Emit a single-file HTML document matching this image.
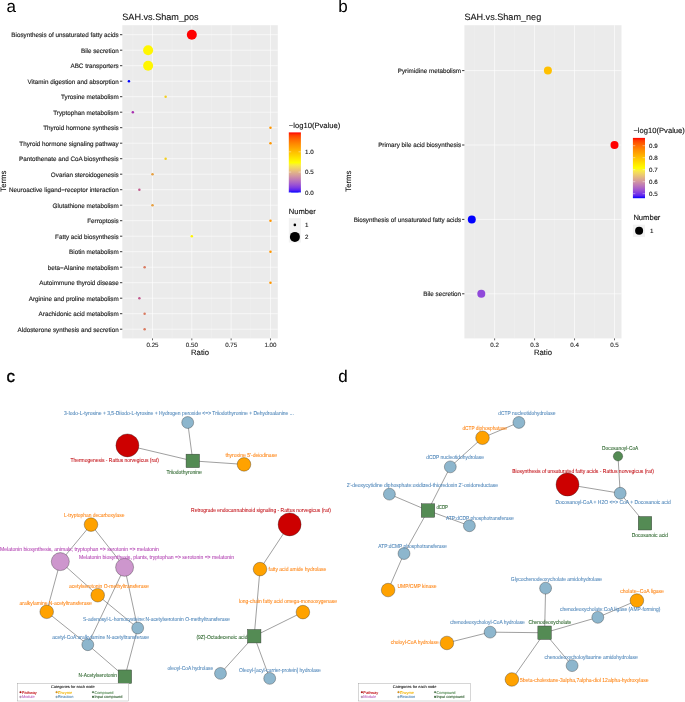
<!DOCTYPE html>
<html><head><meta charset="utf-8"><title>Figure</title>
<style>html,body{margin:0;padding:0;background:#fff}svg{display:block}</style></head>
<body>
<svg width="685" height="702" viewBox="0 0 685 702" text-rendering="geometricPrecision" font-family="Liberation Sans, sans-serif">
<rect width="685" height="702" fill="#fff"/>
<rect x="122.3" y="25.2" width="155.50" height="313.20" fill="#ebebeb"/>
<line x1="132.84" x2="132.84" y1="25.2" y2="338.4" stroke="#fff" stroke-width="0.28" stroke-opacity="0.6"/>
<line x1="172.16" x2="172.16" y1="25.2" y2="338.4" stroke="#fff" stroke-width="0.28" stroke-opacity="0.6"/>
<line x1="211.49" x2="211.49" y1="25.2" y2="338.4" stroke="#fff" stroke-width="0.28" stroke-opacity="0.6"/>
<line x1="250.81" x2="250.81" y1="25.2" y2="338.4" stroke="#fff" stroke-width="0.28" stroke-opacity="0.6"/>
<line x1="152.50" x2="152.50" y1="25.2" y2="338.4" stroke="#fff" stroke-width="0.6"/>
<line x1="191.82" x2="191.82" y1="25.2" y2="338.4" stroke="#fff" stroke-width="0.6"/>
<line x1="231.15" x2="231.15" y1="25.2" y2="338.4" stroke="#fff" stroke-width="0.6"/>
<line x1="270.48" x2="270.48" y1="25.2" y2="338.4" stroke="#fff" stroke-width="0.6"/>
<line x1="122.3" x2="277.8" y1="34.70" y2="34.70" stroke="#fff" stroke-width="0.6"/>
<line x1="120.00" x2="122.3" y1="34.70" y2="34.70" stroke="#222" stroke-width="0.9"/>
<line x1="122.3" x2="277.8" y1="50.20" y2="50.20" stroke="#fff" stroke-width="0.6"/>
<line x1="120.00" x2="122.3" y1="50.20" y2="50.20" stroke="#222" stroke-width="0.9"/>
<line x1="122.3" x2="277.8" y1="65.70" y2="65.70" stroke="#fff" stroke-width="0.6"/>
<line x1="120.00" x2="122.3" y1="65.70" y2="65.70" stroke="#222" stroke-width="0.9"/>
<line x1="122.3" x2="277.8" y1="81.20" y2="81.20" stroke="#fff" stroke-width="0.6"/>
<line x1="120.00" x2="122.3" y1="81.20" y2="81.20" stroke="#222" stroke-width="0.9"/>
<line x1="122.3" x2="277.8" y1="96.70" y2="96.70" stroke="#fff" stroke-width="0.6"/>
<line x1="120.00" x2="122.3" y1="96.70" y2="96.70" stroke="#222" stroke-width="0.9"/>
<line x1="122.3" x2="277.8" y1="112.20" y2="112.20" stroke="#fff" stroke-width="0.6"/>
<line x1="120.00" x2="122.3" y1="112.20" y2="112.20" stroke="#222" stroke-width="0.9"/>
<line x1="122.3" x2="277.8" y1="127.70" y2="127.70" stroke="#fff" stroke-width="0.6"/>
<line x1="120.00" x2="122.3" y1="127.70" y2="127.70" stroke="#222" stroke-width="0.9"/>
<line x1="122.3" x2="277.8" y1="143.20" y2="143.20" stroke="#fff" stroke-width="0.6"/>
<line x1="120.00" x2="122.3" y1="143.20" y2="143.20" stroke="#222" stroke-width="0.9"/>
<line x1="122.3" x2="277.8" y1="158.70" y2="158.70" stroke="#fff" stroke-width="0.6"/>
<line x1="120.00" x2="122.3" y1="158.70" y2="158.70" stroke="#222" stroke-width="0.9"/>
<line x1="122.3" x2="277.8" y1="174.20" y2="174.20" stroke="#fff" stroke-width="0.6"/>
<line x1="120.00" x2="122.3" y1="174.20" y2="174.20" stroke="#222" stroke-width="0.9"/>
<line x1="122.3" x2="277.8" y1="189.70" y2="189.70" stroke="#fff" stroke-width="0.6"/>
<line x1="120.00" x2="122.3" y1="189.70" y2="189.70" stroke="#222" stroke-width="0.9"/>
<line x1="122.3" x2="277.8" y1="205.20" y2="205.20" stroke="#fff" stroke-width="0.6"/>
<line x1="120.00" x2="122.3" y1="205.20" y2="205.20" stroke="#222" stroke-width="0.9"/>
<line x1="122.3" x2="277.8" y1="220.70" y2="220.70" stroke="#fff" stroke-width="0.6"/>
<line x1="120.00" x2="122.3" y1="220.70" y2="220.70" stroke="#222" stroke-width="0.9"/>
<line x1="122.3" x2="277.8" y1="236.20" y2="236.20" stroke="#fff" stroke-width="0.6"/>
<line x1="120.00" x2="122.3" y1="236.20" y2="236.20" stroke="#222" stroke-width="0.9"/>
<line x1="122.3" x2="277.8" y1="251.70" y2="251.70" stroke="#fff" stroke-width="0.6"/>
<line x1="120.00" x2="122.3" y1="251.70" y2="251.70" stroke="#222" stroke-width="0.9"/>
<line x1="122.3" x2="277.8" y1="267.20" y2="267.20" stroke="#fff" stroke-width="0.6"/>
<line x1="120.00" x2="122.3" y1="267.20" y2="267.20" stroke="#222" stroke-width="0.9"/>
<line x1="122.3" x2="277.8" y1="282.70" y2="282.70" stroke="#fff" stroke-width="0.6"/>
<line x1="120.00" x2="122.3" y1="282.70" y2="282.70" stroke="#222" stroke-width="0.9"/>
<line x1="122.3" x2="277.8" y1="298.20" y2="298.20" stroke="#fff" stroke-width="0.6"/>
<line x1="120.00" x2="122.3" y1="298.20" y2="298.20" stroke="#222" stroke-width="0.9"/>
<line x1="122.3" x2="277.8" y1="313.70" y2="313.70" stroke="#fff" stroke-width="0.6"/>
<line x1="120.00" x2="122.3" y1="313.70" y2="313.70" stroke="#222" stroke-width="0.9"/>
<line x1="122.3" x2="277.8" y1="329.20" y2="329.20" stroke="#fff" stroke-width="0.6"/>
<line x1="120.00" x2="122.3" y1="329.20" y2="329.20" stroke="#222" stroke-width="0.9"/>
<line x1="152.50" x2="152.50" y1="338.4" y2="340.30" stroke="#222" stroke-width="0.7"/>
<text x="152.50" y="346.70" font-size="6.2" fill="#2a2a2a" text-anchor="middle" stroke="#2a2a2a" stroke-width="0.12">0.25</text>
<line x1="191.82" x2="191.82" y1="338.4" y2="340.30" stroke="#222" stroke-width="0.7"/>
<text x="191.82" y="346.70" font-size="6.2" fill="#2a2a2a" text-anchor="middle" stroke="#2a2a2a" stroke-width="0.12">0.50</text>
<line x1="231.15" x2="231.15" y1="338.4" y2="340.30" stroke="#222" stroke-width="0.7"/>
<text x="231.15" y="346.70" font-size="6.2" fill="#2a2a2a" text-anchor="middle" stroke="#2a2a2a" stroke-width="0.12">0.75</text>
<line x1="270.48" x2="270.48" y1="338.4" y2="340.30" stroke="#222" stroke-width="0.7"/>
<text x="270.48" y="346.70" font-size="6.2" fill="#2a2a2a" text-anchor="middle" stroke="#2a2a2a" stroke-width="0.12">1.00</text>
<text x="122.30" y="19.60" font-size="9.1" fill="#111" text-anchor="start" stroke="#111" stroke-width="0.1">SAH.vs.Sham_pos</text>
<text x="200.05" y="355.20" font-size="7.7" fill="#111" text-anchor="middle" stroke="#111" stroke-width="0.12">Ratio</text>
<text transform="translate(6.25,181.1) rotate(-90)" font-size="7.8" fill="#111" text-anchor="middle" stroke="#111" stroke-width="0.1">Terms</text>
<text x="118.75" y="37.40" font-size="6.3" fill="#1a1a1a" text-anchor="end" stroke="#1a1a1a" stroke-width="0.14">Biosynthesis of unsaturated fatty acids</text>
<text x="118.75" y="52.90" font-size="6.3" fill="#1a1a1a" text-anchor="end" stroke="#1a1a1a" stroke-width="0.14">Bile secretion</text>
<text x="118.75" y="68.40" font-size="6.3" fill="#1a1a1a" text-anchor="end" stroke="#1a1a1a" stroke-width="0.14">ABC transporters</text>
<text x="118.75" y="83.90" font-size="6.3" fill="#1a1a1a" text-anchor="end" stroke="#1a1a1a" stroke-width="0.14">Vitamin digestion and absorption</text>
<text x="118.75" y="99.40" font-size="6.3" fill="#1a1a1a" text-anchor="end" stroke="#1a1a1a" stroke-width="0.14">Tyrosine metabolism</text>
<text x="118.75" y="114.90" font-size="6.3" fill="#1a1a1a" text-anchor="end" stroke="#1a1a1a" stroke-width="0.14">Tryptophan metabolism</text>
<text x="118.75" y="130.40" font-size="6.3" fill="#1a1a1a" text-anchor="end" stroke="#1a1a1a" stroke-width="0.14">Thyroid hormone synthesis</text>
<text x="118.75" y="145.90" font-size="6.3" fill="#1a1a1a" text-anchor="end" stroke="#1a1a1a" stroke-width="0.14">Thyroid hormone signaling pathway</text>
<text x="118.75" y="161.40" font-size="6.3" fill="#1a1a1a" text-anchor="end" stroke="#1a1a1a" stroke-width="0.14">Pantothenate and CoA biosynthesis</text>
<text x="118.75" y="176.90" font-size="6.3" fill="#1a1a1a" text-anchor="end" stroke="#1a1a1a" stroke-width="0.14">Ovarian steroidogenesis</text>
<text x="118.75" y="192.40" font-size="6.3" fill="#1a1a1a" text-anchor="end" stroke="#1a1a1a" stroke-width="0.14">Neuroactive ligand−receptor interaction</text>
<text x="118.75" y="207.90" font-size="6.3" fill="#1a1a1a" text-anchor="end" stroke="#1a1a1a" stroke-width="0.14">Glutathione metabolism</text>
<text x="118.75" y="223.40" font-size="6.3" fill="#1a1a1a" text-anchor="end" stroke="#1a1a1a" stroke-width="0.14">Ferroptosis</text>
<text x="118.75" y="238.90" font-size="6.3" fill="#1a1a1a" text-anchor="end" stroke="#1a1a1a" stroke-width="0.14">Fatty acid biosynthesis</text>
<text x="118.75" y="254.40" font-size="6.3" fill="#1a1a1a" text-anchor="end" stroke="#1a1a1a" stroke-width="0.14">Biotin metabolism</text>
<text x="118.75" y="269.90" font-size="6.3" fill="#1a1a1a" text-anchor="end" stroke="#1a1a1a" stroke-width="0.14">beta−Alanine metabolism</text>
<text x="118.75" y="285.40" font-size="6.3" fill="#1a1a1a" text-anchor="end" stroke="#1a1a1a" stroke-width="0.14">Autoimmune thyroid disease</text>
<text x="118.75" y="300.90" font-size="6.3" fill="#1a1a1a" text-anchor="end" stroke="#1a1a1a" stroke-width="0.14">Arginine and proline metabolism</text>
<text x="118.75" y="316.40" font-size="6.3" fill="#1a1a1a" text-anchor="end" stroke="#1a1a1a" stroke-width="0.14">Arachidonic acid metabolism</text>
<text x="118.75" y="331.90" font-size="6.3" fill="#1a1a1a" text-anchor="end" stroke="#1a1a1a" stroke-width="0.14">Aldosterone synthesis and secretion</text>
<circle cx="191.82" cy="34.70" r="5" fill="#ff0000"/>
<circle cx="148.13" cy="50.20" r="5" fill="#fff600"/>
<circle cx="148.13" cy="65.70" r="5" fill="#fff600"/>
<circle cx="128.91" cy="81.20" r="1.25" fill="#0000ff"/>
<circle cx="165.61" cy="96.70" r="1.25" fill="#f3cf22"/>
<circle cx="132.84" cy="112.20" r="1.25" fill="#a830b0"/>
<circle cx="270.48" cy="127.70" r="1.25" fill="#ff9600"/>
<circle cx="270.48" cy="143.20" r="1.25" fill="#ff9600"/>
<circle cx="165.61" cy="158.70" r="1.25" fill="#f3cf22"/>
<circle cx="152.50" cy="174.20" r="1.25" fill="#e8a040"/>
<circle cx="139.39" cy="189.70" r="1.25" fill="#c25a8e"/>
<circle cx="152.50" cy="205.20" r="1.25" fill="#e8a040"/>
<circle cx="270.48" cy="220.70" r="1.25" fill="#ff9600"/>
<circle cx="191.82" cy="236.20" r="1.25" fill="#fff500"/>
<circle cx="270.48" cy="251.70" r="1.25" fill="#ff9600"/>
<circle cx="144.63" cy="267.20" r="1.25" fill="#d97a60"/>
<circle cx="270.48" cy="282.70" r="1.25" fill="#ff9600"/>
<circle cx="139.39" cy="298.20" r="1.25" fill="#c25a8e"/>
<circle cx="144.63" cy="313.70" r="1.25" fill="#d97a60"/>
<circle cx="144.63" cy="329.20" r="1.25" fill="#d97a60"/>
<defs><linearGradient id="ga" x1="0" y1="0" x2="0" y2="1"><stop offset="0.0000" stop-color="#ff0000"/><stop offset="0.0417" stop-color="#ff3b00"/><stop offset="0.0833" stop-color="#ff5600"/><stop offset="0.1250" stop-color="#ff6c00"/><stop offset="0.1667" stop-color="#ff7f00"/><stop offset="0.2083" stop-color="#ff9100"/><stop offset="0.2500" stop-color="#ffa100"/><stop offset="0.2917" stop-color="#ffb200"/><stop offset="0.3333" stop-color="#ffc200"/><stop offset="0.3750" stop-color="#ffd100"/><stop offset="0.4167" stop-color="#ffe100"/><stop offset="0.4583" stop-color="#fff000"/><stop offset="0.5000" stop-color="#ffff00"/><stop offset="0.5417" stop-color="#f9eb44"/><stop offset="0.5833" stop-color="#f2d860"/><stop offset="0.6250" stop-color="#eac476"/><stop offset="0.6667" stop-color="#e0b189"/><stop offset="0.7083" stop-color="#d69e9a"/><stop offset="0.7500" stop-color="#ca8aaa"/><stop offset="0.7917" stop-color="#bc77b9"/><stop offset="0.8333" stop-color="#ab64c7"/><stop offset="0.8750" stop-color="#9850d5"/><stop offset="0.9167" stop-color="#7f3be3"/><stop offset="0.9583" stop-color="#5c24f1"/><stop offset="1.0000" stop-color="#0000ff"/></linearGradient></defs>
<rect x="288.8" y="132.4" width="12.1" height="60.20" fill="url(#ga)"/>
<line x1="288.8" x2="291.2" y1="192.40" y2="192.40" stroke="#fff" stroke-width="0.4"/>
<line x1="298.5" x2="300.90000000000003" y1="192.40" y2="192.40" stroke="#fff" stroke-width="0.4"/>
<text x="305.00" y="194.60" font-size="6.2" fill="#111" text-anchor="start" stroke="#111" stroke-width="0.12">0.0</text>
<line x1="288.8" x2="291.2" y1="172.10" y2="172.10" stroke="#fff" stroke-width="0.4"/>
<line x1="298.5" x2="300.90000000000003" y1="172.10" y2="172.10" stroke="#fff" stroke-width="0.4"/>
<text x="305.00" y="174.30" font-size="6.2" fill="#111" text-anchor="start" stroke="#111" stroke-width="0.12">0.5</text>
<line x1="288.8" x2="291.2" y1="151.80" y2="151.80" stroke="#fff" stroke-width="0.4"/>
<line x1="298.5" x2="300.90000000000003" y1="151.80" y2="151.80" stroke="#fff" stroke-width="0.4"/>
<text x="305.00" y="154.00" font-size="6.2" fill="#111" text-anchor="start" stroke="#111" stroke-width="0.12">1.0</text>
<text x="288.80" y="127.60" font-size="7.6" fill="#111" text-anchor="start" textLength="51.50" lengthAdjust="spacingAndGlyphs" stroke="#111" stroke-width="0.12">−log10(Pvalue)</text>
<text x="288.80" y="214.20" font-size="7.6" fill="#111" text-anchor="start" stroke="#111" stroke-width="0.12">Number</text>
<rect x="288.8" y="218.2" width="12.1" height="24.3" fill="#f2f2f2"/>
<circle cx="294.85" cy="224.9" r="1.3" fill="#000"/><circle cx="294.9" cy="236.9" r="5" fill="#000"/>
<text x="305.00" y="227.10" font-size="6.2" fill="#111" text-anchor="start" stroke="#111" stroke-width="0.12">1</text>
<text x="305.00" y="238.90" font-size="6.2" fill="#111" text-anchor="start" stroke="#111" stroke-width="0.12">2</text>
<text x="6.40" y="11.90" font-size="17" fill="#000" text-anchor="start" >a</text>
<rect x="464.4" y="25.2" width="157.10" height="313.20" fill="#ebebeb"/>
<line x1="474.64" x2="474.64" y1="25.2" y2="338.4" stroke="#fff" stroke-width="0.28" stroke-opacity="0.6"/>
<line x1="514.60" x2="514.60" y1="25.2" y2="338.4" stroke="#fff" stroke-width="0.28" stroke-opacity="0.6"/>
<line x1="554.56" x2="554.56" y1="25.2" y2="338.4" stroke="#fff" stroke-width="0.28" stroke-opacity="0.6"/>
<line x1="594.52" x2="594.52" y1="25.2" y2="338.4" stroke="#fff" stroke-width="0.28" stroke-opacity="0.6"/>
<line x1="494.62" x2="494.62" y1="25.2" y2="338.4" stroke="#fff" stroke-width="0.6"/>
<line x1="534.58" x2="534.58" y1="25.2" y2="338.4" stroke="#fff" stroke-width="0.6"/>
<line x1="574.54" x2="574.54" y1="25.2" y2="338.4" stroke="#fff" stroke-width="0.6"/>
<line x1="614.50" x2="614.50" y1="25.2" y2="338.4" stroke="#fff" stroke-width="0.6"/>
<line x1="464.4" x2="621.5" y1="70.60" y2="70.60" stroke="#fff" stroke-width="0.6"/>
<line x1="462.10" x2="464.4" y1="70.60" y2="70.60" stroke="#222" stroke-width="0.9"/>
<line x1="464.4" x2="621.5" y1="145.00" y2="145.00" stroke="#fff" stroke-width="0.6"/>
<line x1="462.10" x2="464.4" y1="145.00" y2="145.00" stroke="#222" stroke-width="0.9"/>
<line x1="464.4" x2="621.5" y1="219.40" y2="219.40" stroke="#fff" stroke-width="0.6"/>
<line x1="462.10" x2="464.4" y1="219.40" y2="219.40" stroke="#222" stroke-width="0.9"/>
<line x1="464.4" x2="621.5" y1="293.80" y2="293.80" stroke="#fff" stroke-width="0.6"/>
<line x1="462.10" x2="464.4" y1="293.80" y2="293.80" stroke="#222" stroke-width="0.9"/>
<line x1="494.62" x2="494.62" y1="338.4" y2="340.30" stroke="#222" stroke-width="0.7"/>
<text x="494.62" y="346.70" font-size="6.2" fill="#2a2a2a" text-anchor="middle" stroke="#2a2a2a" stroke-width="0.12">0.2</text>
<line x1="534.58" x2="534.58" y1="338.4" y2="340.30" stroke="#222" stroke-width="0.7"/>
<text x="534.58" y="346.70" font-size="6.2" fill="#2a2a2a" text-anchor="middle" stroke="#2a2a2a" stroke-width="0.12">0.3</text>
<line x1="574.54" x2="574.54" y1="338.4" y2="340.30" stroke="#222" stroke-width="0.7"/>
<text x="574.54" y="346.70" font-size="6.2" fill="#2a2a2a" text-anchor="middle" stroke="#2a2a2a" stroke-width="0.12">0.4</text>
<line x1="614.50" x2="614.50" y1="338.4" y2="340.30" stroke="#222" stroke-width="0.7"/>
<text x="614.50" y="346.70" font-size="6.2" fill="#2a2a2a" text-anchor="middle" stroke="#2a2a2a" stroke-width="0.12">0.5</text>
<text x="464.40" y="19.60" font-size="9.1" fill="#111" text-anchor="start" stroke="#111" stroke-width="0.1">SAH.vs.Sham_neg</text>
<text x="542.95" y="355.20" font-size="7.7" fill="#111" text-anchor="middle" stroke="#111" stroke-width="0.12">Ratio</text>
<text transform="translate(350.9,181.1) rotate(-90)" font-size="7.8" fill="#111" text-anchor="middle" stroke="#111" stroke-width="0.1">Terms</text>
<text x="461.10" y="72.75" font-size="6.3" fill="#1a1a1a" text-anchor="end" stroke="#1a1a1a" stroke-width="0.14">Pyrimidine metabolism</text>
<text x="461.10" y="147.15" font-size="6.3" fill="#1a1a1a" text-anchor="end" stroke="#1a1a1a" stroke-width="0.14">Primary bile acid biosynthesis</text>
<text x="461.10" y="221.55" font-size="6.3" fill="#1a1a1a" text-anchor="end" stroke="#1a1a1a" stroke-width="0.14">Biosynthesis of unsaturated fatty acids</text>
<text x="461.10" y="295.95" font-size="6.3" fill="#1a1a1a" text-anchor="end" stroke="#1a1a1a" stroke-width="0.14">Bile secretion</text>
<circle cx="547.90" cy="70.60" r="4" fill="#ffc000"/>
<circle cx="614.50" cy="145.00" r="4" fill="#ff0000"/>
<circle cx="471.79" cy="219.40" r="4" fill="#0000ff"/>
<circle cx="481.30" cy="293.80" r="4" fill="#9049da"/>
<defs><linearGradient id="gb" x1="0" y1="0" x2="0" y2="1"><stop offset="0.0000" stop-color="#ff0000"/><stop offset="0.0417" stop-color="#ff3b00"/><stop offset="0.0833" stop-color="#ff5600"/><stop offset="0.1250" stop-color="#ff6c00"/><stop offset="0.1667" stop-color="#ff7f00"/><stop offset="0.2083" stop-color="#ff9100"/><stop offset="0.2500" stop-color="#ffa100"/><stop offset="0.2917" stop-color="#ffb200"/><stop offset="0.3333" stop-color="#ffc200"/><stop offset="0.3750" stop-color="#ffd100"/><stop offset="0.4167" stop-color="#ffe100"/><stop offset="0.4583" stop-color="#fff000"/><stop offset="0.5000" stop-color="#ffff00"/><stop offset="0.5417" stop-color="#f9eb44"/><stop offset="0.5833" stop-color="#f2d860"/><stop offset="0.6250" stop-color="#eac476"/><stop offset="0.6667" stop-color="#e0b189"/><stop offset="0.7083" stop-color="#d69e9a"/><stop offset="0.7500" stop-color="#ca8aaa"/><stop offset="0.7917" stop-color="#bc77b9"/><stop offset="0.8333" stop-color="#ab64c7"/><stop offset="0.8750" stop-color="#9850d5"/><stop offset="0.9167" stop-color="#7f3be3"/><stop offset="0.9583" stop-color="#5c24f1"/><stop offset="1.0000" stop-color="#0000ff"/></linearGradient></defs>
<rect x="632.9" y="137.9" width="12.1" height="60.30" fill="url(#gb)"/>
<line x1="632.9" x2="635.3" y1="193.70" y2="193.70" stroke="#fff" stroke-width="0.4"/>
<line x1="642.6" x2="645.0" y1="193.70" y2="193.70" stroke="#fff" stroke-width="0.4"/>
<text x="649.10" y="195.90" font-size="6.2" fill="#111" text-anchor="start" stroke="#111" stroke-width="0.12">0.5</text>
<line x1="632.9" x2="635.3" y1="181.70" y2="181.70" stroke="#fff" stroke-width="0.4"/>
<line x1="642.6" x2="645.0" y1="181.70" y2="181.70" stroke="#fff" stroke-width="0.4"/>
<text x="649.10" y="183.90" font-size="6.2" fill="#111" text-anchor="start" stroke="#111" stroke-width="0.12">0.6</text>
<line x1="632.9" x2="635.3" y1="169.70" y2="169.70" stroke="#fff" stroke-width="0.4"/>
<line x1="642.6" x2="645.0" y1="169.70" y2="169.70" stroke="#fff" stroke-width="0.4"/>
<text x="649.10" y="171.90" font-size="6.2" fill="#111" text-anchor="start" stroke="#111" stroke-width="0.12">0.7</text>
<line x1="632.9" x2="635.3" y1="157.70" y2="157.70" stroke="#fff" stroke-width="0.4"/>
<line x1="642.6" x2="645.0" y1="157.70" y2="157.70" stroke="#fff" stroke-width="0.4"/>
<text x="649.10" y="159.90" font-size="6.2" fill="#111" text-anchor="start" stroke="#111" stroke-width="0.12">0.8</text>
<line x1="632.9" x2="635.3" y1="145.70" y2="145.70" stroke="#fff" stroke-width="0.4"/>
<line x1="642.6" x2="645.0" y1="145.70" y2="145.70" stroke="#fff" stroke-width="0.4"/>
<text x="649.10" y="147.90" font-size="6.2" fill="#111" text-anchor="start" stroke="#111" stroke-width="0.12">0.9</text>
<text x="633.40" y="133.10" font-size="7.6" fill="#111" text-anchor="start" textLength="51.50" lengthAdjust="spacingAndGlyphs" stroke="#111" stroke-width="0.12">−log10(Pvalue)</text>
<text x="633.40" y="220.00" font-size="7.6" fill="#111" text-anchor="start" stroke="#111" stroke-width="0.12">Number</text>
<rect x="632.9" y="224.7" width="12.1" height="12.2" fill="#f2f2f2"/>
<circle cx="639.1" cy="230.8" r="4" fill="#000"/>
<text x="649.90" y="233.00" font-size="6.2" fill="#111" text-anchor="start" stroke="#111" stroke-width="0.12">1</text>
<text x="338.30" y="11.90" font-size="17" fill="#000" text-anchor="start" >b</text>
<line x1="127.4" y1="445.4" x2="192.8" y2="460.9" stroke="#404040" stroke-width="0.5"/>
<line x1="187.7" y1="422.5" x2="192.8" y2="460.9" stroke="#404040" stroke-width="0.5"/>
<line x1="192.8" y1="460.9" x2="244" y2="464.4" stroke="#404040" stroke-width="0.5"/>
<line x1="91" y1="524.6" x2="60.3" y2="561.6" stroke="#404040" stroke-width="0.5"/>
<line x1="91" y1="524.6" x2="124.6" y2="567.3" stroke="#404040" stroke-width="0.5"/>
<line x1="60.3" y1="561.6" x2="46.7" y2="611.8" stroke="#404040" stroke-width="0.5"/>
<line x1="60.3" y1="561.6" x2="97.7" y2="595.2" stroke="#404040" stroke-width="0.5"/>
<line x1="124.6" y1="567.3" x2="137.7" y2="628" stroke="#404040" stroke-width="0.5"/>
<line x1="124.6" y1="567.3" x2="87.8" y2="644.7" stroke="#404040" stroke-width="0.5"/>
<line x1="46.7" y1="611.8" x2="87.8" y2="644.7" stroke="#404040" stroke-width="0.5"/>
<line x1="97.7" y1="595.2" x2="137.7" y2="628" stroke="#404040" stroke-width="0.5"/>
<line x1="87.8" y1="644.7" x2="124.9" y2="676.7" stroke="#404040" stroke-width="0.5"/>
<line x1="137.7" y1="628" x2="124.9" y2="676.7" stroke="#404040" stroke-width="0.5"/>
<line x1="289.6" y1="524.4" x2="260" y2="569.1" stroke="#404040" stroke-width="0.5"/>
<line x1="260" y1="569.1" x2="254.2" y2="636.2" stroke="#404040" stroke-width="0.5"/>
<line x1="302.9" y1="612.1" x2="254.2" y2="636.2" stroke="#404040" stroke-width="0.5"/>
<line x1="254.2" y1="636.2" x2="220.5" y2="673.4" stroke="#404040" stroke-width="0.5"/>
<line x1="254.2" y1="636.2" x2="269.7" y2="678.4" stroke="#404040" stroke-width="0.5"/>
<circle cx="127.4" cy="445.4" r="11.5" fill="#CD0000" stroke="#2a2a2a" stroke-width="0.35"/>
<circle cx="187.7" cy="422.5" r="5.95" fill="#8DB6CD" stroke="#2a2a2a" stroke-width="0.35"/>
<rect x="186.05" y="454.15" width="13.5" height="13.5" fill="#548B54" stroke="#333" stroke-width="0.4"/>
<circle cx="244" cy="464.4" r="6.8" fill="#FFA200" stroke="#2a2a2a" stroke-width="0.35"/>
<circle cx="91" cy="524.6" r="6.8" fill="#FFA200" stroke="#2a2a2a" stroke-width="0.35"/>
<circle cx="60.3" cy="561.6" r="9" fill="#CD96CD" stroke="#2a2a2a" stroke-width="0.35"/>
<circle cx="124.6" cy="567.3" r="9" fill="#CD96CD" stroke="#2a2a2a" stroke-width="0.35"/>
<circle cx="97.7" cy="595.2" r="6.8" fill="#FFA200" stroke="#2a2a2a" stroke-width="0.35"/>
<circle cx="46.7" cy="611.8" r="6.8" fill="#FFA200" stroke="#2a2a2a" stroke-width="0.35"/>
<circle cx="137.7" cy="628" r="5.95" fill="#8DB6CD" stroke="#2a2a2a" stroke-width="0.35"/>
<circle cx="87.8" cy="644.7" r="5.95" fill="#8DB6CD" stroke="#2a2a2a" stroke-width="0.35"/>
<rect x="118.15" y="669.95" width="13.5" height="13.5" fill="#548B54" stroke="#333" stroke-width="0.4"/>
<circle cx="289.6" cy="524.4" r="11.5" fill="#CD0000" stroke="#2a2a2a" stroke-width="0.35"/>
<circle cx="260" cy="569.1" r="6.8" fill="#FFA200" stroke="#2a2a2a" stroke-width="0.35"/>
<circle cx="302.9" cy="612.1" r="6.8" fill="#FFA200" stroke="#2a2a2a" stroke-width="0.35"/>
<rect x="247.45" y="629.45" width="13.5" height="13.5" fill="#548B54" stroke="#333" stroke-width="0.4"/>
<circle cx="220.5" cy="673.4" r="5.95" fill="#8DB6CD" stroke="#2a2a2a" stroke-width="0.35"/>
<circle cx="269.7" cy="678.4" r="5.95" fill="#8DB6CD" stroke="#2a2a2a" stroke-width="0.35"/>
<text x="64.00" y="415.10" font-size="5.7" fill="#5389BB" text-anchor="start" textLength="229.80" lengthAdjust="spacingAndGlyphs" stroke="#5389BB" stroke-width="0.09">3-Iodo-L-tyrosine + 3,5-Diiodo-L-tyrosine + Hydrogen peroxide &lt;=&gt; Triiodothyronine + Dehydroalanine ...</text>
<text x="70.40" y="462.30" font-size="5.7" fill="#C4161C" text-anchor="start" textLength="88.40" lengthAdjust="spacingAndGlyphs" stroke="#C4161C" stroke-width="0.09">Thermogenesis - Rattus norvegicus (rat)</text>
<text x="166.40" y="473.80" font-size="5.7" fill="#2d662d" text-anchor="start" textLength="35.40" lengthAdjust="spacingAndGlyphs" stroke="#2d662d" stroke-width="0.09">Triiodothyronine</text>
<text x="225.40" y="456.90" font-size="5.7" fill="#FF8616" text-anchor="start" textLength="51.60" lengthAdjust="spacingAndGlyphs" stroke="#FF8616" stroke-width="0.09">thyroxine 5'-deiodinase</text>
<text x="64.00" y="516.80" font-size="5.7" fill="#FF8616" text-anchor="start" textLength="60.40" lengthAdjust="spacingAndGlyphs" stroke="#FF8616" stroke-width="0.09">L-tryptophan decarboxylase</text>
<text x="0.00" y="550.50" font-size="5.7" fill="#B549B5" text-anchor="start" textLength="158.80" lengthAdjust="spacingAndGlyphs" stroke="#B549B5" stroke-width="0.09">Melatonin biosynthesis, animals; tryptophan =&gt; serotonin =&gt; melatonin</text>
<text x="79.00" y="559.10" font-size="5.7" fill="#B549B5" text-anchor="start" textLength="155.00" lengthAdjust="spacingAndGlyphs" stroke="#B549B5" stroke-width="0.09">Melatonin biosynthesis, plants, tryptophan =&gt; serotonin =&gt; melatonin</text>
<text x="69.00" y="588.00" font-size="5.7" fill="#FF8616" text-anchor="start" textLength="79.70" lengthAdjust="spacingAndGlyphs" stroke="#FF8616" stroke-width="0.09">acetylserotonin O-methyltransferase</text>
<text x="19.60" y="604.80" font-size="5.7" fill="#FF8616" text-anchor="start" textLength="72.10" lengthAdjust="spacingAndGlyphs" stroke="#FF8616" stroke-width="0.09">aralkylamine N-acetyltransferase</text>
<text x="83.00" y="621.40" font-size="5.7" fill="#5389BB" text-anchor="start" textLength="146.80" lengthAdjust="spacingAndGlyphs" stroke="#5389BB" stroke-width="0.09">S-adenosyl-L-homocysteine:N-acetylserotonin O-methyltransferase</text>
<text x="52.30" y="638.50" font-size="5.7" fill="#5389BB" text-anchor="start" textLength="96.70" lengthAdjust="spacingAndGlyphs" stroke="#5389BB" stroke-width="0.09">acetyl-CoA:aralkylamine N-acetyltransferase</text>
<text x="78.60" y="676.80" font-size="5.7" fill="#2d662d" text-anchor="start" textLength="38.40" lengthAdjust="spacingAndGlyphs" stroke="#2d662d" stroke-width="0.09">N-Acetylserotonin</text>
<text x="191.10" y="511.90" font-size="5.7" fill="#C4161C" text-anchor="start" textLength="139.70" lengthAdjust="spacingAndGlyphs" stroke="#C4161C" stroke-width="0.09">Retrograde endocannabinoid signaling - Rattus norvegicus (rat)</text>
<text x="268.50" y="570.90" font-size="5.7" fill="#FF8616" text-anchor="start" textLength="57.80" lengthAdjust="spacingAndGlyphs" stroke="#FF8616" stroke-width="0.09">fatty acid amide hydrolase</text>
<text x="239.00" y="603.10" font-size="5.7" fill="#FF8616" text-anchor="start" textLength="98.00" lengthAdjust="spacingAndGlyphs" stroke="#FF8616" stroke-width="0.09">long-chain fatty acid omega-monooxygenase</text>
<text x="196.40" y="638.80" font-size="5.7" fill="#2d662d" text-anchor="start" textLength="51.00" lengthAdjust="spacingAndGlyphs" stroke="#2d662d" stroke-width="0.09">(9Z)-Octadecenoic acid</text>
<text x="167.50" y="670.20" font-size="5.7" fill="#5389BB" text-anchor="start" textLength="45.70" lengthAdjust="spacingAndGlyphs" stroke="#5389BB" stroke-width="0.09">oleoyl-CoA hydrolase</text>
<text x="239.10" y="672.20" font-size="5.7" fill="#5389BB" text-anchor="start" textLength="81.70" lengthAdjust="spacingAndGlyphs" stroke="#5389BB" stroke-width="0.09">Oleoyl-[acyl-carrier-protein] hydrolase</text>
<text x="6.5" y="382.2" font-size="17" fill="#000" stroke="#000" stroke-width="0.4">c</text>
<line x1="518.9" y1="422.45" x2="482.5" y2="437.75" stroke="#404040" stroke-width="0.5"/>
<line x1="482.5" y1="437.75" x2="450.3" y2="466.85" stroke="#404040" stroke-width="0.5"/>
<line x1="450.3" y1="466.85" x2="428" y2="510.55" stroke="#404040" stroke-width="0.5"/>
<line x1="389.4" y1="494.15" x2="428" y2="510.55" stroke="#404040" stroke-width="0.5"/>
<line x1="428" y1="510.55" x2="469.4" y2="525.75" stroke="#404040" stroke-width="0.5"/>
<line x1="428" y1="510.55" x2="404" y2="553.55" stroke="#404040" stroke-width="0.5"/>
<line x1="404" y1="553.55" x2="388.1" y2="590.05" stroke="#404040" stroke-width="0.5"/>
<line x1="618" y1="456.25" x2="620.2" y2="493.25" stroke="#404040" stroke-width="0.5"/>
<line x1="567.5" y1="484.55" x2="620.2" y2="493.25" stroke="#404040" stroke-width="0.5"/>
<line x1="620.2" y1="493.25" x2="645" y2="523.25" stroke="#404040" stroke-width="0.5"/>
<line x1="545.6" y1="588.15" x2="544.6" y2="632.75" stroke="#404040" stroke-width="0.5"/>
<line x1="636.9" y1="600.55" x2="597.8" y2="617.35" stroke="#404040" stroke-width="0.5"/>
<line x1="597.8" y1="617.35" x2="544.6" y2="632.75" stroke="#404040" stroke-width="0.5"/>
<line x1="544.6" y1="632.75" x2="490.1" y2="632.15" stroke="#404040" stroke-width="0.5"/>
<line x1="490.1" y1="632.15" x2="446.9" y2="642.95" stroke="#404040" stroke-width="0.5"/>
<line x1="544.6" y1="632.75" x2="572.1" y2="665.65" stroke="#404040" stroke-width="0.5"/>
<line x1="544.6" y1="632.75" x2="511.9" y2="679.45" stroke="#404040" stroke-width="0.5"/>
<circle cx="518.9" cy="422.45" r="5.95" fill="#8DB6CD" stroke="#2a2a2a" stroke-width="0.35"/>
<circle cx="482.5" cy="437.75" r="6.8" fill="#FFA200" stroke="#2a2a2a" stroke-width="0.35"/>
<circle cx="450.3" cy="466.85" r="5.95" fill="#8DB6CD" stroke="#2a2a2a" stroke-width="0.35"/>
<rect x="421.25" y="503.80" width="13.5" height="13.5" fill="#548B54" stroke="#333" stroke-width="0.4"/>
<circle cx="389.4" cy="494.15" r="5.95" fill="#8DB6CD" stroke="#2a2a2a" stroke-width="0.35"/>
<circle cx="469.4" cy="525.75" r="5.95" fill="#8DB6CD" stroke="#2a2a2a" stroke-width="0.35"/>
<circle cx="404" cy="553.55" r="5.95" fill="#8DB6CD" stroke="#2a2a2a" stroke-width="0.35"/>
<circle cx="388.1" cy="590.05" r="6.8" fill="#FFA200" stroke="#2a2a2a" stroke-width="0.35"/>
<circle cx="618" cy="456.25" r="4.7" fill="#548B54" stroke="#2a2a2a" stroke-width="0.35"/>
<circle cx="620.2" cy="493.25" r="5.95" fill="#8DB6CD" stroke="#2a2a2a" stroke-width="0.35"/>
<circle cx="567.5" cy="484.55" r="11.5" fill="#CD0000" stroke="#2a2a2a" stroke-width="0.35"/>
<rect x="638.25" y="516.50" width="13.5" height="13.5" fill="#548B54" stroke="#333" stroke-width="0.4"/>
<circle cx="545.6" cy="588.15" r="5.95" fill="#8DB6CD" stroke="#2a2a2a" stroke-width="0.35"/>
<circle cx="636.9" cy="600.55" r="6.8" fill="#FFA200" stroke="#2a2a2a" stroke-width="0.35"/>
<circle cx="597.8" cy="617.35" r="5.95" fill="#8DB6CD" stroke="#2a2a2a" stroke-width="0.35"/>
<rect x="537.85" y="626.00" width="13.5" height="13.5" fill="#548B54" stroke="#333" stroke-width="0.4"/>
<circle cx="490.1" cy="632.15" r="5.95" fill="#8DB6CD" stroke="#2a2a2a" stroke-width="0.35"/>
<circle cx="446.9" cy="642.95" r="6.8" fill="#FFA200" stroke="#2a2a2a" stroke-width="0.35"/>
<circle cx="572.1" cy="665.65" r="5.95" fill="#8DB6CD" stroke="#2a2a2a" stroke-width="0.35"/>
<circle cx="511.9" cy="679.45" r="6.8" fill="#FFA200" stroke="#2a2a2a" stroke-width="0.35"/>
<text x="498.30" y="415.00" font-size="5.7" fill="#5389BB" text-anchor="start" textLength="57.10" lengthAdjust="spacingAndGlyphs" stroke="#5389BB" stroke-width="0.09">dCTP nucleotidohydrolase</text>
<text x="462.40" y="429.90" font-size="5.7" fill="#FF8616" text-anchor="start" textLength="44.60" lengthAdjust="spacingAndGlyphs" stroke="#FF8616" stroke-width="0.09">dCTP diphosphatase</text>
<text x="426.20" y="459.00" font-size="5.7" fill="#5389BB" text-anchor="start" textLength="57.80" lengthAdjust="spacingAndGlyphs" stroke="#5389BB" stroke-width="0.09">dCDP nucleotidohydrolase</text>
<text x="346.80" y="486.60" font-size="5.7" fill="#5389BB" text-anchor="start" textLength="151.20" lengthAdjust="spacingAndGlyphs" stroke="#5389BB" stroke-width="0.09">2'-deoxycytidine diphosphate:oxidized-thioredoxin 2'-oxidoreductase</text>
<text x="436.40" y="509.10" font-size="5.7" fill="#2d662d" text-anchor="start" textLength="11.60" lengthAdjust="spacingAndGlyphs" stroke="#2d662d" stroke-width="0.09">dCDP</text>
<text x="445.90" y="519.60" font-size="5.7" fill="#5389BB" text-anchor="start" textLength="67.70" lengthAdjust="spacingAndGlyphs" stroke="#5389BB" stroke-width="0.09">ATP:dCDP phosphotransferase</text>
<text x="378.30" y="547.70" font-size="5.7" fill="#5389BB" text-anchor="start" textLength="68.40" lengthAdjust="spacingAndGlyphs" stroke="#5389BB" stroke-width="0.09">ATP:dCMP phosphotransferase</text>
<text x="397.50" y="587.90" font-size="5.7" fill="#FF8616" text-anchor="start" textLength="38.90" lengthAdjust="spacingAndGlyphs" stroke="#FF8616" stroke-width="0.09">UMP/CMP kinase</text>
<text x="602.10" y="449.70" font-size="5.7" fill="#2d662d" text-anchor="start" textLength="36.20" lengthAdjust="spacingAndGlyphs" stroke="#2d662d" stroke-width="0.09">Docosanoyl-CoA</text>
<text x="512.20" y="473.10" font-size="5.7" fill="#C4161C" text-anchor="start" textLength="141.70" lengthAdjust="spacingAndGlyphs" stroke="#C4161C" stroke-width="0.09">Biosynthesis of unsaturated fatty acids - Rattus norvegicus (rat)</text>
<text x="555.40" y="504.20" font-size="5.7" fill="#5389BB" text-anchor="start" textLength="115.30" lengthAdjust="spacingAndGlyphs" stroke="#5389BB" stroke-width="0.09">Docosanoyl-CoA + H2O &lt;=&gt; CoA + Docosanoic acid</text>
<text x="631.80" y="536.80" font-size="5.7" fill="#2d662d" text-anchor="start" textLength="36.20" lengthAdjust="spacingAndGlyphs" stroke="#2d662d" stroke-width="0.09">Docosanoic acid</text>
<text x="510.80" y="581.00" font-size="5.7" fill="#5389BB" text-anchor="start" textLength="91.30" lengthAdjust="spacingAndGlyphs" stroke="#5389BB" stroke-width="0.09">Glycochenodeoxycholate amidohydrolase</text>
<text x="620.20" y="593.10" font-size="5.7" fill="#FF8616" text-anchor="start" textLength="43.70" lengthAdjust="spacingAndGlyphs" stroke="#FF8616" stroke-width="0.09">cholate--CoA ligase</text>
<text x="560.00" y="610.90" font-size="5.7" fill="#5389BB" text-anchor="start" textLength="100.40" lengthAdjust="spacingAndGlyphs" stroke="#5389BB" stroke-width="0.09">chenodeoxycholate:CoA ligase (AMP-forming)</text>
<text x="528.40" y="623.90" font-size="5.7" fill="#2d662d" text-anchor="start" textLength="42.90" lengthAdjust="spacingAndGlyphs" stroke="#2d662d" stroke-width="0.09">Chenodeoxycholate</text>
<text x="450.20" y="624.20" font-size="5.7" fill="#5389BB" text-anchor="start" textLength="74.60" lengthAdjust="spacingAndGlyphs" stroke="#5389BB" stroke-width="0.09">chenodeoxycholoyl-CoA hydrolase</text>
<text x="390.80" y="643.60" font-size="5.7" fill="#FF8616" text-anchor="start" textLength="47.80" lengthAdjust="spacingAndGlyphs" stroke="#FF8616" stroke-width="0.09">choloyl-CoA hydrolase</text>
<text x="544.60" y="658.50" font-size="5.7" fill="#5389BB" text-anchor="start" textLength="93.10" lengthAdjust="spacingAndGlyphs" stroke="#5389BB" stroke-width="0.09">chenodeoxycholoyltaurine amidohydrolase</text>
<text x="520.00" y="682.20" font-size="5.7" fill="#FF8616" text-anchor="start" textLength="128.50" lengthAdjust="spacingAndGlyphs" stroke="#FF8616" stroke-width="0.09">5beta-cholestane-3alpha,7alpha-diol 12alpha-hydroxylase</text>
<text x="338.3" y="382.1" font-size="17" fill="#000" stroke="#000" stroke-width="0.1">d</text>
<rect x="17.2" y="683.3" width="111.60" height="17.70" fill="#fff" stroke="#8a8a8a" stroke-width="0.35"/>
<text x="72.80" y="687.80" font-size="3.9" fill="#111" text-anchor="middle" stroke="#111" stroke-width="0.08">Categories for each node</text>
<circle cx="20.50" cy="692.20" r="0.9" fill="#CD0000" stroke="#333" stroke-width="0.2"/>
<text x="21.90" y="693.55" font-size="3.9" fill="#C4161C" text-anchor="start" stroke="#C4161C" stroke-width="0.1">Pathway</text>
<circle cx="20.50" cy="696.90" r="0.9" fill="#CD96CD" stroke="#333" stroke-width="0.2"/>
<text x="21.90" y="698.25" font-size="3.9" fill="#C06AC0" text-anchor="start" stroke="#C06AC0" stroke-width="0.1">Module</text>
<circle cx="56.60" cy="692.20" r="0.9" fill="#FFA200" stroke="#333" stroke-width="0.2"/>
<text x="58.00" y="693.55" font-size="3.9" fill="#F2B400" text-anchor="start" stroke="#F2B400" stroke-width="0.1">Enzyme</text>
<circle cx="56.60" cy="696.90" r="0.9" fill="#8DB6CD" stroke="#333" stroke-width="0.2"/>
<text x="58.00" y="698.25" font-size="3.9" fill="#5B8DB8" text-anchor="start" stroke="#5B8DB8" stroke-width="0.1">Reaction</text>
<circle cx="93.00" cy="692.20" r="0.9" fill="#548B54" stroke="#333" stroke-width="0.2"/>
<text x="94.40" y="693.55" font-size="3.9" fill="#548B54" text-anchor="start" stroke="#548B54" stroke-width="0.1">Compound</text>
<rect x="92.10" y="696.00" width="1.8" height="1.8" fill="#548B54" stroke="#333" stroke-width="0.2"/>
<text x="94.40" y="698.25" font-size="3.9" fill="#2F5F2F" text-anchor="start" stroke="#2F5F2F" stroke-width="0.1">Input compound</text>
<rect x="358.5" y="683.3" width="112.10" height="17.70" fill="#fff" stroke="#8a8a8a" stroke-width="0.35"/>
<text x="414.60" y="687.80" font-size="3.9" fill="#111" text-anchor="middle" stroke="#111" stroke-width="0.08">Categories for each node</text>
<circle cx="361.90" cy="692.20" r="0.9" fill="#CD0000" stroke="#333" stroke-width="0.2"/>
<text x="363.30" y="693.55" font-size="3.9" fill="#C4161C" text-anchor="start" stroke="#C4161C" stroke-width="0.1">Pathway</text>
<circle cx="361.90" cy="696.90" r="0.9" fill="#CD96CD" stroke="#333" stroke-width="0.2"/>
<text x="363.30" y="698.25" font-size="3.9" fill="#C06AC0" text-anchor="start" stroke="#C06AC0" stroke-width="0.1">Module</text>
<circle cx="398.50" cy="692.20" r="0.9" fill="#FFA200" stroke="#333" stroke-width="0.2"/>
<text x="399.90" y="693.55" font-size="3.9" fill="#F2B400" text-anchor="start" stroke="#F2B400" stroke-width="0.1">Enzyme</text>
<circle cx="398.50" cy="696.90" r="0.9" fill="#8DB6CD" stroke="#333" stroke-width="0.2"/>
<text x="399.90" y="698.25" font-size="3.9" fill="#5B8DB8" text-anchor="start" stroke="#5B8DB8" stroke-width="0.1">Reaction</text>
<circle cx="435.10" cy="692.20" r="0.9" fill="#548B54" stroke="#333" stroke-width="0.2"/>
<text x="436.50" y="693.55" font-size="3.9" fill="#548B54" text-anchor="start" stroke="#548B54" stroke-width="0.1">Compound</text>
<rect x="434.20" y="696.00" width="1.8" height="1.8" fill="#548B54" stroke="#333" stroke-width="0.2"/>
<text x="436.50" y="698.25" font-size="3.9" fill="#2F5F2F" text-anchor="start" stroke="#2F5F2F" stroke-width="0.1">Input compound</text>
</svg>
</body></html>
